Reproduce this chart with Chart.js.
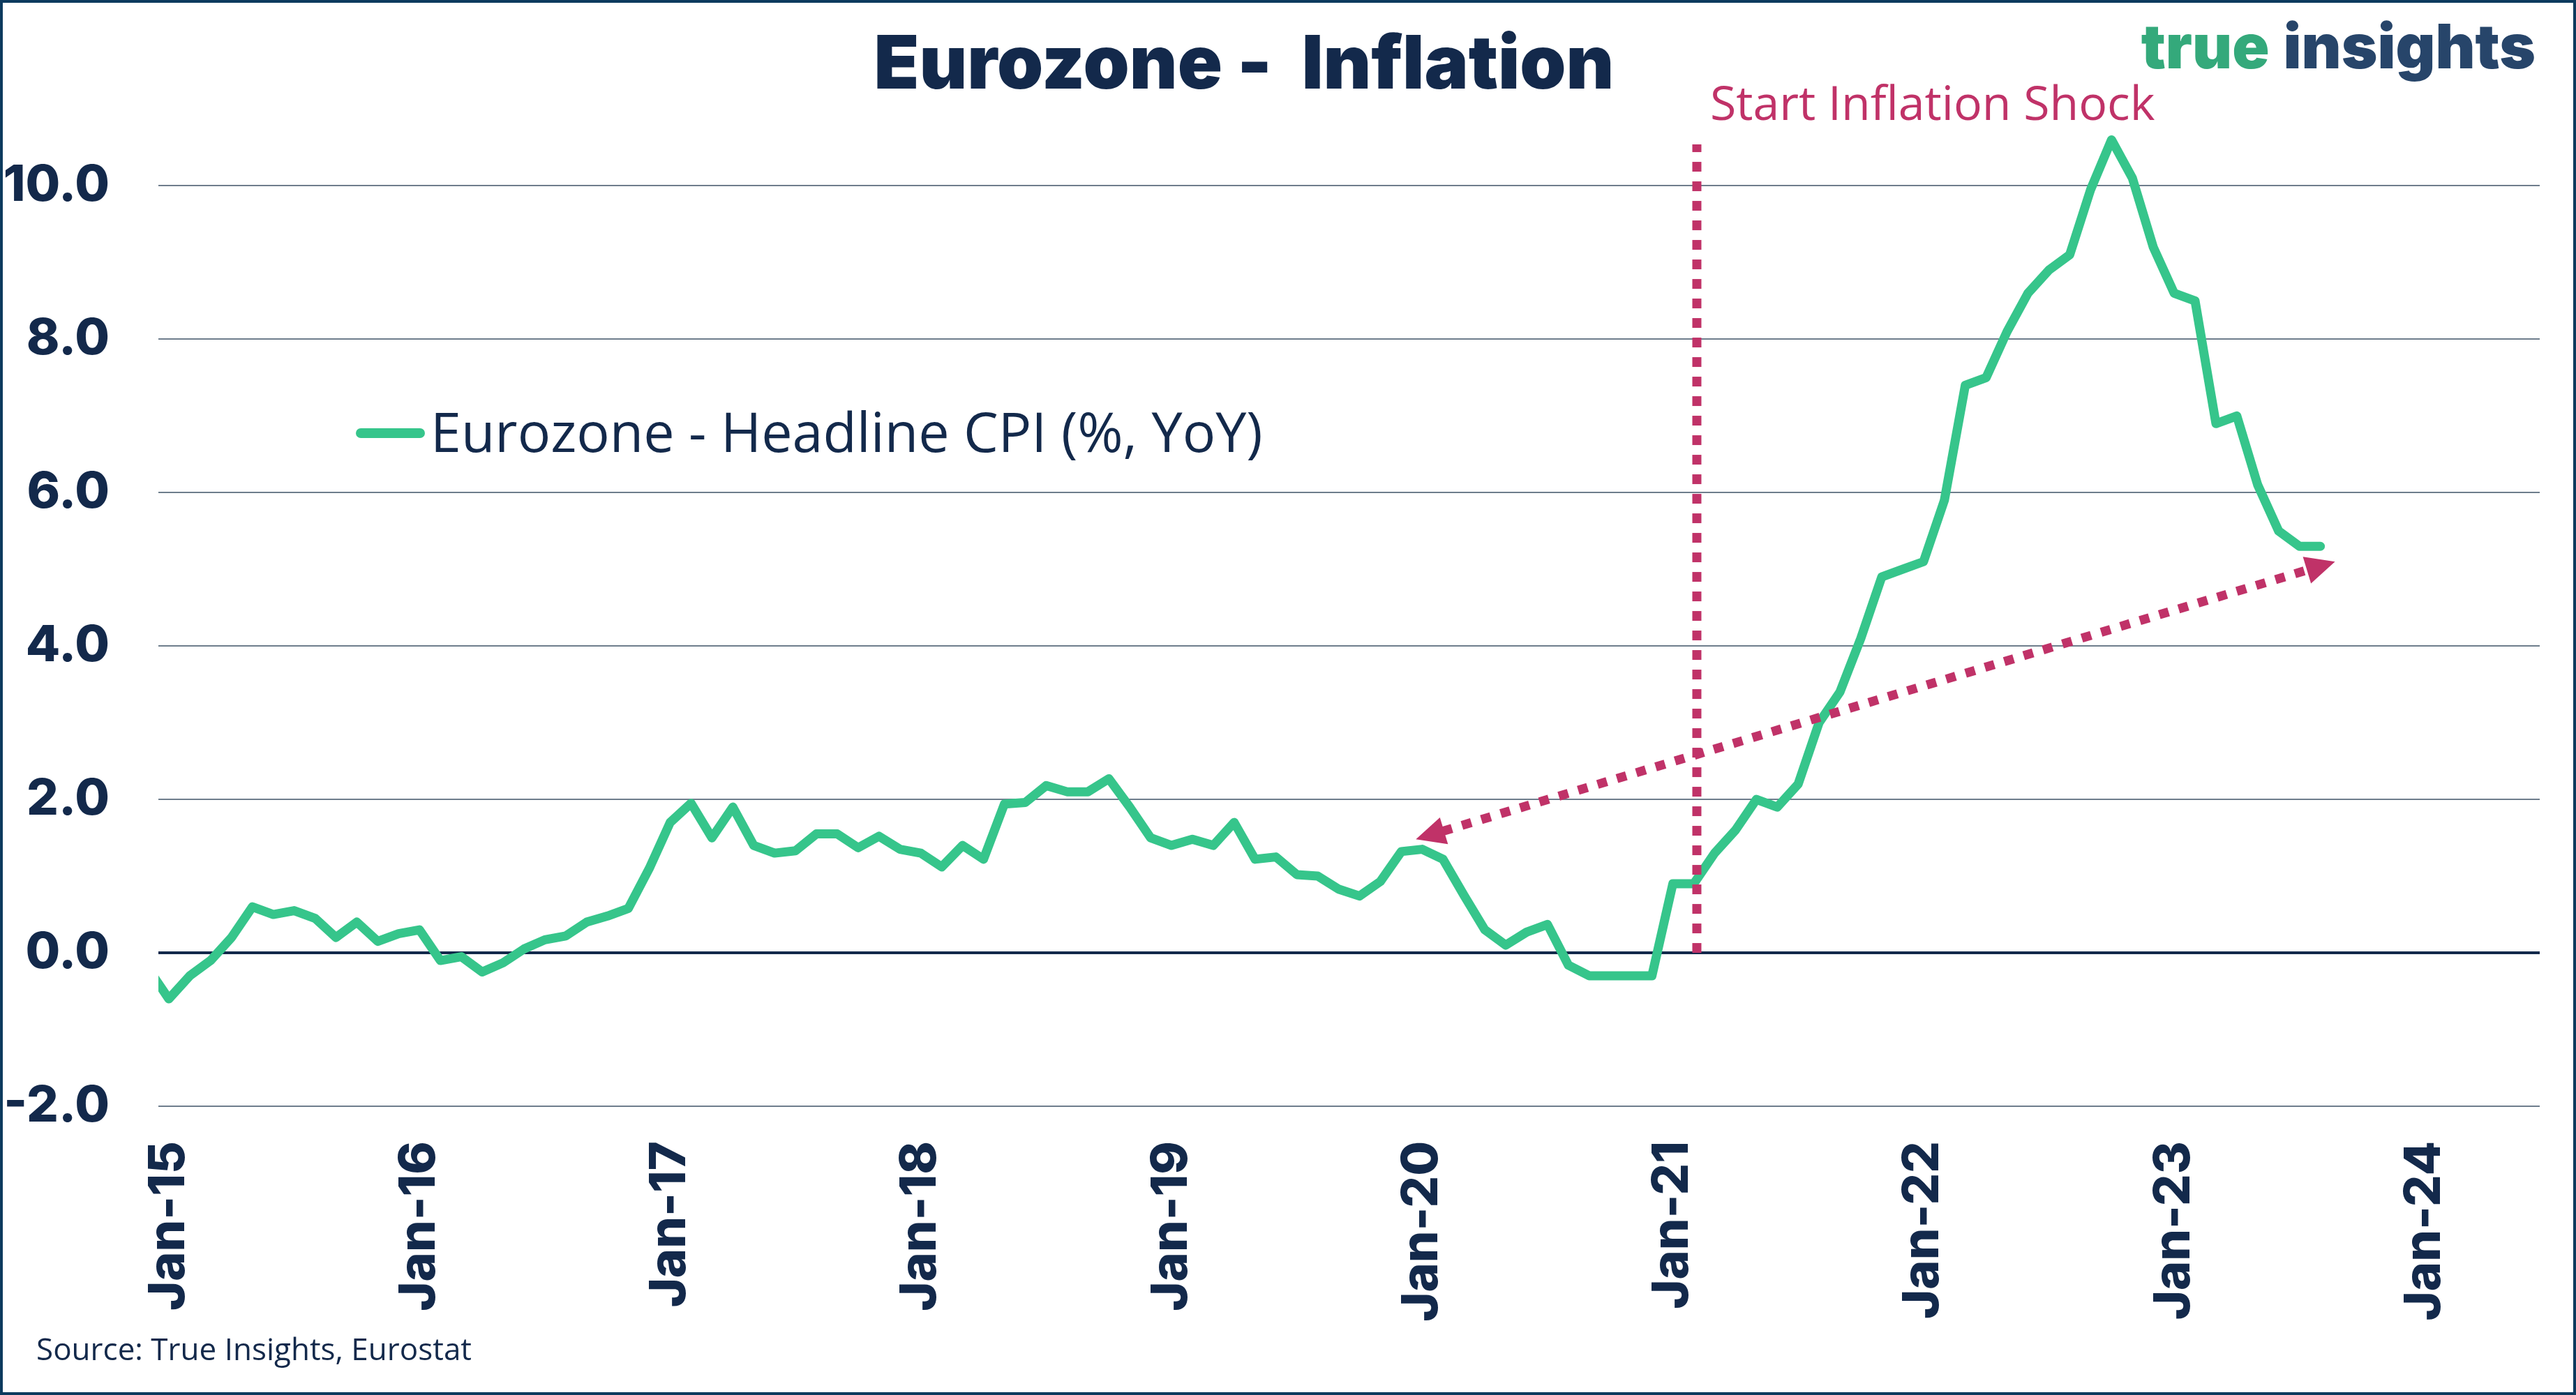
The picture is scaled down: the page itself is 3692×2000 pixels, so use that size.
<!DOCTYPE html>
<html>
<head>
<meta charset="utf-8">
<script src="https://cdn.jsdelivr.net/npm/chart.js@4.4.1/dist/chart.umd.min.js"></script>
<style>
html,body{margin:0;padding:0;background:#ffffff;}
#wrap{width:3692px;height:2000px;position:relative;}
</style>
</head>
<body>
<div id="wrap"><canvas id="c" width="3692" height="2000"></canvas></div>
<script>
// ---------- DATA ----------
const monthNames = ['Jan','Feb','Mar','Apr','May','Jun','Jul','Aug','Sep','Oct','Nov','Dec'];
// categories: Dec-14 ... Aug-23 (month position relative to Jan-15 = index - 1)
const categories = ['Dec-14'];
for (let yr = 15; yr <= 23; yr++) {
  for (let m = 0; m < 12; m++) {
    if (yr === 23 && m > 7) break;
    categories.push(monthNames[m] + '-' + yr);
  }
}
const firstMonthPos = -1; // Dec-14 sits one month before Jan-15

// Eurozone headline CPI, % YoY
const cpi2014 = [-0.2];
const cpi2015 = [-0.6, -0.3, -0.1, 0.2, 0.6, 0.5, 0.55, 0.45, 0.2, 0.4, 0.15, 0.25];
const cpi2016 = [0.3, -0.1, -0.05, -0.25, -0.13, 0.05, 0.17, 0.22, 0.4, 0.48, 0.58, 1.1];
const cpi2017 = [1.7, 1.95, 1.5, 1.9, 1.4, 1.3, 1.33, 1.55, 1.55, 1.37, 1.52, 1.35];
const cpi2018 = [1.3, 1.12, 1.4, 1.22, 1.94, 1.96, 2.18, 2.1, 2.1, 2.27, 1.9, 1.5];
const cpi2019 = [1.4, 1.48, 1.4, 1.7, 1.22, 1.25, 1.02, 1.0, 0.83, 0.74, 0.93, 1.32];
const cpi2020 = [1.35, 1.22, 0.75, 0.3, 0.1, 0.27, 0.37, -0.16, -0.3, -0.3, -0.3, -0.3];
const cpi2021 = [0.9, 0.9, 1.3, 1.6, 2.0, 1.9, 2.2, 3.0, 3.4, 4.1, 4.9, 5.0];
const cpi2022 = [5.1, 5.9, 7.4, 7.5, 8.1, 8.6, 8.9, 9.1, 9.95, 10.6, 10.1, 9.2];
const cpi2023 = [8.6, 8.5, 6.9, 7.0, 6.1, 5.5, 5.3, 5.3];
const cpi = [].concat(cpi2014, cpi2015, cpi2016, cpi2017, cpi2018, cpi2019, cpi2020, cpi2021, cpi2022, cpi2023);

// x axis: months since Jan-15, axis spans half a month either side
const xMin = -0.5, xMax = 113.5;
const tickLabels = ['Jan-15','Jan-16','Jan-17','Jan-18','Jan-19','Jan-20','Jan-21','Jan-22','Jan-23','Jan-24'];
const tickPos    = [0, 12, 24, 36, 48, 60, 72, 84, 96, 108];
const yTicks = [-2, 0, 2, 4, 6, 8, 10];
const yMin = -2, yMax = 10.54;

// annotations
const shockPos = 73.15;     // Feb-21
const shockTop = 10.54;
const arrowFrom = {x: 59.7, y: 1.48};
const arrowTo   = {x: 103.7, y: 5.1};

const seriesLabel = 'Eurozone - Headline CPI (%, YoY)';
const titleText = 'Eurozone -  Inflation';
const shockText = 'Start Inflation Shock';
const sourceText = 'Source: True Insights, Eurostat';

// ---------- STYLE ----------
const NAVY = '#13294B';
const GREEN = '#36C58B';
const CRIMSON = '#C03268';
const GRID = '#6E7D8C';

const points = cpi.map((v, k) => ({x: firstMonthPos + k, y: v}));

const overlay = {
  id: 'overlay',
  afterDatasetsDraw(chart) {
    const ctx = chart.ctx, xs = chart.scales.x, ys = chart.scales.y;
    ctx.save();
    // vertical dashed shock line
    const sx = xs.getPixelForValue(shockPos);
    ctx.strokeStyle = CRIMSON;
    ctx.lineWidth = 13;
    ctx.lineCap = 'butt';
    ctx.setLineDash([14, 14]);
    ctx.beginPath();
    ctx.moveTo(sx, ys.getPixelForValue(0));
    ctx.lineTo(sx, ys.getPixelForValue(shockTop));
    ctx.stroke();

    // double-headed dotted arrow
    const p1 = {x: xs.getPixelForValue(arrowFrom.x), y: ys.getPixelForValue(arrowFrom.y)};
    const p2 = {x: xs.getPixelForValue(arrowTo.x), y: ys.getPixelForValue(arrowTo.y)};
    const dx = p2.x - p1.x, dy = p2.y - p1.y, L = Math.hypot(dx, dy);
    const ux = dx / L, uy = dy / L, px = -uy, py = ux;
    const headLen = 42, headW = 40;
    const b1 = {x: p1.x + ux * headLen, y: p1.y + uy * headLen};
    const b2 = {x: p2.x - ux * headLen, y: p2.y - uy * headLen};
    ctx.lineWidth = 13;
    ctx.setLineDash([14, 15]);
    ctx.beginPath();
    ctx.moveTo(b1.x - ux * 2, b1.y - uy * 2);
    ctx.lineTo(b2.x + ux * 2, b2.y + uy * 2);
    ctx.stroke();
    ctx.setLineDash([]);
    ctx.fillStyle = CRIMSON;
    [[p1, b1], [p2, b2]].forEach(([tip, base]) => {
      ctx.beginPath();
      ctx.moveTo(tip.x, tip.y);
      ctx.lineTo(base.x + px * headW / 2, base.y + py * headW / 2);
      ctx.lineTo(base.x - px * headW / 2, base.y - py * headW / 2);
      ctx.closePath();
      ctx.fill();
    });

    // shock label
    ctx.font = '400 68px "Open Sans"';
    ctx.fillStyle = CRIMSON;
    ctx.textAlign = 'left';
    ctx.textBaseline = 'alphabetic';
    ctx.fillText(shockText, sx + 19, 172);
    ctx.restore();
  },
  afterDraw(chart) {
    const ctx = chart.ctx;
    ctx.save();
    // title
    ctx.fillStyle = NAVY;
    ctx.font = '900 106px Inter';
    ctx.textAlign = 'center';
    ctx.textBaseline = 'alphabetic';
    ctx.fillText(titleText, 1783, 127);

    // logo
    ctx.font = '900 88px Inter';
    ctx.textAlign = 'left';
    const wIns = ctx.measureText('insights').width;
    const wTrue = ctx.measureText('true').width;
    const xIns = 3634 - wIns;
    ctx.fillStyle = '#27456A';
    ctx.fillText('insights', xIns, 98);
    ctx.fillStyle = '#34A97B';
    ctx.fillText('true', xIns - 20 - wTrue, 98);

    // legend
    ctx.strokeStyle = GREEN;
    ctx.lineWidth = 14;
    ctx.lineCap = 'round';
    ctx.beginPath();
    ctx.moveTo(517, 621);
    ctx.lineTo(602, 621);
    ctx.stroke();
    ctx.fillStyle = NAVY;
    ctx.font = '400 79px "Open Sans"';
    ctx.fillText(seriesLabel, 617, 648);

    // source
    ctx.font = '400 44px "Open Sans"';
    ctx.fillStyle = NAVY;
    ctx.fillText(sourceText, 52, 1950);

    // frame
    ctx.strokeStyle = '#0D3B5E';
    ctx.lineWidth = 5;
    ctx.strokeRect(1.5, 1.5, 3689, 1997);
    ctx.restore();
  }
};

new Chart(document.getElementById('c').getContext('2d'), {
  type: 'line',
  data: {
    datasets: [{
      label: seriesLabel,
      data: points,
      borderColor: GREEN,
      backgroundColor: GREEN,
      borderWidth: 13,
      pointRadius: 0,
      tension: 0,
      borderJoinStyle: 'round',
      borderCapStyle: 'round',
      clip: {left: 0, top: false, right: false, bottom: false}
    }]
  },
  options: {
    responsive: false,
    animation: false,
    devicePixelRatio: 1,
    layout: {padding: {top: 207, right: 52, left: 0, bottom: 0}},
    plugins: {legend: {display: false}, tooltip: {enabled: false}, title: {display: false}},
    scales: {
      x: {
        type: 'linear',
        min: xMin, max: xMax,
        afterBuildTicks: s => { s.ticks = tickPos.map(v => ({value: v})); },
        afterFit: s => { s.height = 414; },
        grid: {display: false, drawTicks: false},
        border: {display: false},
        ticks: {
          autoSkip: false, minRotation: 90, maxRotation: 90, padding: 50,
          color: NAVY,
          font: {family: 'Inter', size: 72, weight: '800'},
          callback: v => tickLabels[tickPos.indexOf(v)]
        }
      },
      y: {
        min: yMin, max: yMax,
        afterBuildTicks: s => { s.ticks = yTicks.map(v => ({value: v})); },
        afterFit: s => { s.width = 227; },
        grid: {
          drawTicks: false,
          color: c => c.tick && c.tick.value === 0 ? NAVY : GRID,
          lineWidth: c => c.tick && c.tick.value === 0 ? 4 : 2
        },
        border: {display: false},
        ticks: {
          padding: 70,
          color: NAVY,
          font: {family: 'Inter', size: 72, weight: '800'},
          callback: v => v.toFixed(1)
        }
      }
    }
  },
  plugins: [overlay]
});
</script>
</body>
</html>
